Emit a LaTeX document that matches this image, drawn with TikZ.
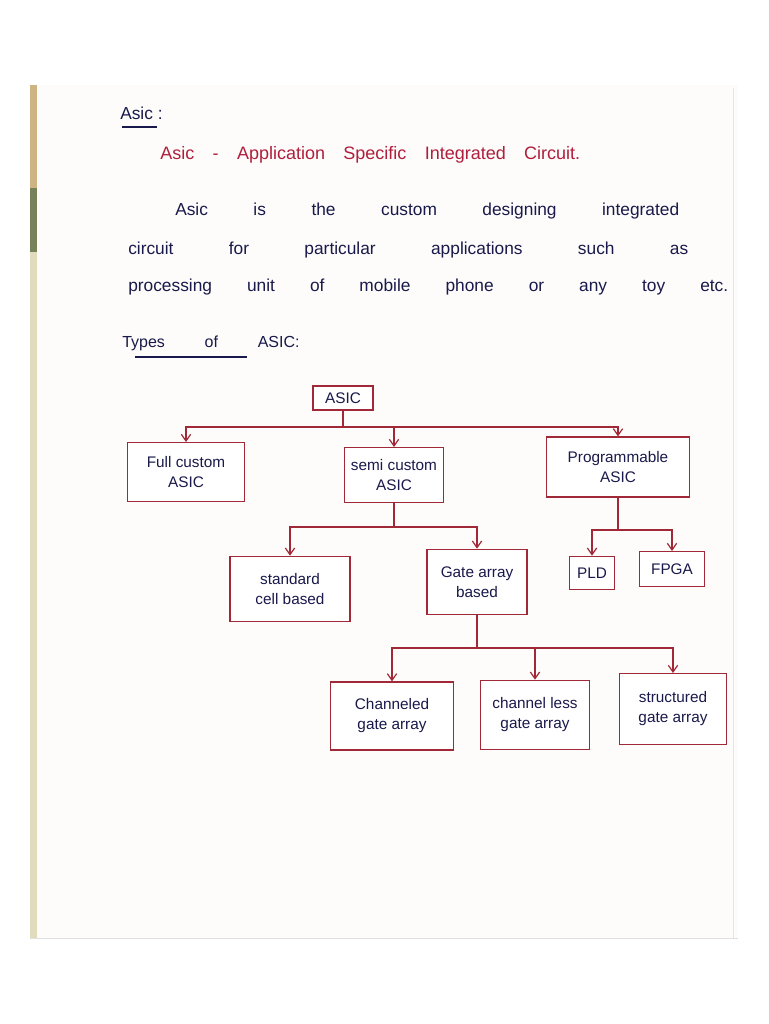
\documentclass[tikz,border=0pt]{standalone}
\usepackage{fontspec}
\setmainfont{Liberation Sans}
\usetikzlibrary{arrows.meta}
\definecolor{inkred}{RGB}{175,30,60}
\definecolor{inkblue}{RGB}{25,25,75}
\definecolor{boxred}{RGB}{160,40,55}
\definecolor{paper}{RGB}{253,252,250}
\definecolor{stripetan}{RGB}{205,180,130}
\definecolor{stripegreen}{RGB}{120,130,90}
\definecolor{stripepale}{RGB}{225,220,190}
\tikzset{
  box/.style={draw=boxred, line width=1pt, fill=white, align=center, text=inkblue,
    font=\fontsize{11.5}{15}\selectfont, inner sep=0pt, minimum width=#1},
  box/.default=80,
  link/.style={draw=boxred, line width=0.9pt},
  arr/.style={link, -{Straight Barb[length=5pt,width=7pt]}},
  para/.style={text=inkblue, font=\fontsize{13}{15}\selectfont, anchor=west, inner sep=0pt},
}
\begin{document}
\begin{tikzpicture}[x=0.75pt,y=-0.75pt]
\useasboundingbox (0,0) rectangle (768,1024);
\fill[white] (0,0) rectangle (768,1024);
% paper sheet
\fill[paper] (30,85) rectangle (738,938);
\draw[black!12, line width=0.6pt] (30,938) -- (738,938);
\draw[black!10, line width=0.6pt] (733,88) -- (733,938);
\fill[stripetan] (30,85) rectangle (37,188);
\fill[stripegreen] (30,188) rectangle (37,252);
\fill[stripepale] (30,252) rectangle (37,938);

% headings and paragraph
\node[text=inkblue, font=\fontsize{13}{15}\selectfont, anchor=west, inner sep=0pt] (h1) at (120,113) {Asic :};
\draw[inkblue, line width=0.8pt] (122,127) -- (157,127);

\node[text=inkred, font=\fontsize{13.5}{16}\selectfont, anchor=west, inner sep=0pt] (def) at (160,155)
  {\makebox[315pt][s]{Asic\hfill-\hfill Application\hfill Specific\hfill Integrated\hfill Circuit.}};

\node[para] (p1) at (175,211) {\makebox[378pt][s]{Asic\hfill is\hfill the\hfill custom\hfill designing\hfill integrated}};
\node[para] (p2) at (128,250) {\makebox[420pt][s]{circuit\hfill for\hfill particular\hfill applications\hfill such\hfill as}};
\node[para] (p3) at (128,287) {\makebox[450pt][s]{processing\hfill unit\hfill of\hfill mobile\hfill phone\hfill or\hfill any\hfill toy\hfill etc.}};

\node[text=inkblue, font=\fontsize{12}{15}\selectfont, anchor=west, inner sep=0pt] (types) at (122,343)
  {\makebox[133pt][s]{Types\hfill of\hfill ASIC:}};
\draw[inkblue, line width=0.8pt] (135,357) -- (247,357);

% tree
\node[box=45, minimum height=18pt] (asic) at (343,398) {ASIC};
\node[box=88, minimum height=44pt] (full) at (186,472) {Full custom\\ASIC};
\node[box=74, minimum height=41pt] (semi) at (394,475) {semi custom\\ASIC};
\node[box=107, minimum height=45pt] (prog) at (618,467) {Programmable\\ASIC};

\node[box=90, minimum height=49pt] (std) at (290,589) {standard\\cell based};
\node[box=75, minimum height=49pt] (gate) at (477,582) {Gate array\\based};
\node[box=34, minimum height=25pt] (pld) at (592,573) {PLD};
\node[box=49, minimum height=26pt] (fpga) at (672,569) {FPGA};

\node[box=92, minimum height=51pt] (chd) at (392,716) {Channeled\\gate array};
\node[box=82, minimum height=52pt] (chl) at (535,715) {channel less\\gate array};
\node[box=80, minimum height=53pt] (str) at (673,709) {structured\\gate array};

% connectors
\coordinate (j1) at (343,427);
\draw[link] (asic.south) -- (j1);
\draw[arr] (j1) -| (full.north);
\draw[arr] (j1) -| (semi.north);
\draw[arr] (j1) -| (prog.north);

\coordinate (j2) at (394,527);
\draw[link] (semi.south) -- (j2);
\draw[arr] (j2) -| (std.north);
\draw[arr] (j2) -| (gate.north);

\coordinate (j3) at (618,530);
\draw[link] (prog.south) -- (j3);
\draw[arr] (j3) -| (pld.north);
\draw[arr] (j3) -| (fpga.north);

\coordinate (j4) at (477,648);
\draw[link] (gate.south) -- (j4);
\draw[arr] (j4) -| (chd.north);
\draw[arr] (j4) -| (chl.north);
\draw[arr] (j4) -| (str.north);
\end{tikzpicture}
\end{document}
